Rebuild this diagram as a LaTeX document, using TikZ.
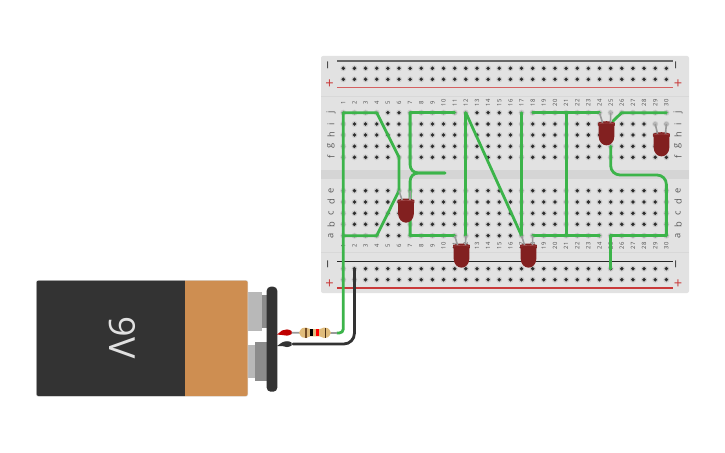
\documentclass[tikz,border=0pt]{standalone}
\usepackage{fontspec}
\setmainfont{Open Sans}
\usetikzlibrary{calc}
\definecolor{boardc}{HTML}{E2E2E2}
\definecolor{bandc}{HTML}{D5D5D5}
\definecolor{sepc}{HTML}{D8D8D8}
\definecolor{wirec}{HTML}{3CB44A}
\definecolor{blackw}{HTML}{333333}
\definecolor{ledc}{HTML}{822020}
\definecolor{ledl}{HTML}{A04848}
\definecolor{legc}{HTML}{9A9A9A}
\definecolor{orangec}{HTML}{CE8E51}
\definecolor{tanc}{HTML}{E0BC7C}
\definecolor{railr}{HTML}{C93A3A}
\tikzset{
 wire/.style={draw=wirec,line width=2.1pt,line join=round,line cap=round},
 blackwire/.style={draw=blackw,line width=2.1pt,line join=round,line cap=round},
 leg/.style={draw=legc,line width=1.2pt},
 lab/.style={font=\fontsize{4.4}{5}\selectfont,text=black!70,rotate=90,inner sep=0pt},
 letlab/.style={font=\fontsize{7}{8}\selectfont,text=black!65,rotate=90,inner sep=0pt},
 minuslab/.style={font=\fontsize{11}{11}\selectfont,text=black!75,rotate=90,inner sep=0pt},
 pluslab/.style={font=\fontsize{11}{11}\selectfont,text=railr,inner sep=0pt},
}
\newcommand{\ledpart}[3]{%
 \begin{scope}[shift={(#2,#3)}]
  \coordinate (#1l) at (-4,2);
  \coordinate (#1r) at (4,2);
  \fill[ledc] (-8.3,2) .. controls (-5,0) and (5,0) .. (8.3,2) -- (8.3,5) -- (7.8,5) -- (7.8,16)
    .. controls (7.8,21) and (4,24.7) .. (0,24.7) .. controls (-4,24.7) and (-7.8,21) .. (-7.8,16) -- (-7.8,5) -- (-8.3,5) -- cycle;
  \draw[ledl,line width=.5pt] (-8,3.3) .. controls (-4,2) and (4,2) .. (8,3.3);
 \end{scope}}
\begin{document}
\begin{tikzpicture}[x=0.75pt,y=-0.75pt]
\useasboundingbox (0,0) rectangle (725,453);
\fill[white] (0,0) rectangle (725,453);
% board
\fill[boardc,rounded corners=1.5pt] (321,56) rectangle (689,293);
\fill[bandc] (321,170) rectangle (689,179);
\draw[sepc,line width=.6pt] (321,96.5) -- (689,96.5);
\draw[sepc,line width=.6pt] (321,252.3) -- (689,252.3);
\draw[black!60,line width=.9pt] (337.3,61) -- (672.7,61);
\draw[railr!80,line width=.9pt] (337.3,87.7) -- (672.7,87.7);
\draw[black!85,line width=.8pt] (337.3,261.3) -- (672.7,261.3);
\draw[railr,line width=.8pt] (337.3,288) -- (672.7,288);
% holes
\foreach \c in {1,...,30}{
 \pgfmathsetmacro{\xx}{343.3+11.14*(\c-1)}
 \foreach \r/\yy in {tm/68.3,tp/79.3,j/112.7,i/124,h/135,g/146.3,f/157.3,e/190.7,d/202,c/213.3,b/224.3,a/235.7,bm/268.7,bp/279.7}{
  \coordinate (c\c\r) at (\xx,\yy);
  \fill[black!20] (\xx,\yy) circle (3);
  \fill[black!82] (\xx,\yy) circle (1.9);
 }
 \node[lab] (numt\c) at (\xx,102.7) {\c};
 \node[lab] (numb\c) at (\xx,245.7) {\c};
}
% connected holes
\foreach \p in {c1j,c1i,c1h,c1g,c1f,c1e,c1d,c1c,c1b,c1a,c7j,c7i,c7h,c7g,c7f,c7e,c7d,c7c,c7b,c7a,
 c12j,c12i,c12h,c12g,c12f,c12e,c12d,c12c,c12b,c12a,c17j,c17i,c17h,c17g,c17f,c17e,c17d,c17c,c17b,c17a,
 c21j,c21i,c21h,c21g,c21f,c21e,c21d,c21c,c21b,c21a,c2j,c3j,c4j,c8j,c9j,c10j,c11j,c18j,c19j,c20j,c22j,c23j,c24j,c25j,c26j,c27j,c28j,c29j,c30j,
 c29i,c30i,c25g,c25f,c6f,c6e,c30e,c30d,c30c,c30b,c30a,c2a,c3a,c4a,c8a,c9a,c10a,c11a,c18a,c19a,c20a,c22a,c23a,c24a,c25a,c26a,c27a,c28a,c29a,c1bm,c1bp,c2bp}{
 \fill[black!28] (\p) circle (2);
}
% row letters
\foreach \l/\yy in {j/112.7,i/124,h/135,g/146.3,f/157.3,e/190.7,d/202,c/213.3,b/224.3,a/235.7}{
 \node[letlab] (ll\l) at (331,\yy) {\l};
 \node[letlab] (lr\l) at (678,\yy) {\l};
}
\node[minuslab] (m1) at (330,65) {−};
\node[minuslab] (m2) at (678,65) {−};
\node[minuslab] (m3) at (330,264) {−};
\node[minuslab] (m4) at (678,264) {−};
\node[pluslab] (p1) at (329.5,84.3) {+};
\node[pluslab] (p2) at (678,84.3) {+};
\node[pluslab] (p3) at (329.5,284) {+};
\node[pluslab] (p4) at (678,284) {+};
% helper coordinates
\coordinate (wa) at (445,173);
\coordinate (wb) at (640,175);
\coordinate (wc) at (613,121);
\coordinate (wd) at (621.7,112.7);
\coordinate (re) at (337,333);
\coordinate (bk) at (293,344);
% wires
\draw[wire,rounded corners=3pt] (c1j) |- (re);
\draw[wire] (c1j) -- (c4j) -- (c6f) -- (c6e) -- (c4a) -- (c1a);
\draw[wire] (c7a) -- (c11a);
\draw[wire] (c7j) -- (c11j);
\draw[wire,rounded corners=6pt] (c7j) |- (wa);
\draw[wire,rounded corners=6pt] (c7a) |- (wa);
\draw[wire] (c12j) -- (c12a);
\draw[wire] (c12j) -- (c17a);
\draw[wire] (c17j) -- (c17a);
\draw[wire] (c18j) -- (c24j);
\draw[wire] (c21j) -- (c21a);
\draw[wire] (c18a) -- (c24a);
\draw[wire] (c30j) -- (wd) -- (wc);
\draw[wire,rounded corners=7pt] (c25g) |- (wb) -| (c30a);
\draw[wire] (c30a) -- (c25a) -- (c25bm);
\draw[blackwire,rounded corners=8pt] (c2bm) |- (bk);
% LEDs
\ledpart{la}{406}{198}
\ledpart{lb}{461.5}{243}
\ledpart{lc}{528.5}{243}
\ledpart{ld}{606.5}{120.7}
\ledpart{le}{661.5}{131.7}
\draw[leg] (c6e) -- (lal);
\draw[leg] (c7e) -- (lar);
\draw[leg] (c11a) -- (lbl);
\draw[leg] (c12a) -- (lbr);
\draw[leg] (c17a) -- (lcl);
\draw[leg] (c18a) -- (lcr);
\draw[leg] (c24j) -- (ldl);
\draw[leg] (c25j) -- (ldr);
\draw[leg] (c29i) -- (lel);
\draw[leg] (c30i) -- (ler);
% battery
\fill[black!28] (248,292) rectangle (262.3,331);
\fill[black!45] (262.3,295) rectangle (268,327.7);
\fill[black!28] (248,345) rectangle (255,378.3);
\fill[black!45] (255,341.7) rectangle (268,381);
\fill[black!12,rounded corners=1.5pt] (36,280) rectangle (248,396.6);
\begin{scope}
 \clip[rounded corners=1.5pt] (36.5,280.7) rectangle (247.7,396);
 \fill[blackw] (36,280) rectangle (185,397);
 \fill[orangec] (185,280) rectangle (248,397);
\end{scope}
\node[rotate=-90,inner sep=0pt,text=black!12,font=\fontsize{27}{30}\selectfont] (volt) at (122,338) {9V};
% clip
\fill[blackw,rounded corners=3pt] (266.7,286.7) rectangle (277.3,391.7);
% resistor
\coordinate (rl) at (291,332.7);
\draw[legc,line width=1.2pt] (rl) -- (re);
\fill[tanc] (299,332.7) .. controls (301,328) and (303,327) .. (306,327.5) -- (310,329) -- (320,329) -- (324,327.5) .. controls (327,327) and (329,328) .. (331,332.7)
 .. controls (329,337.4) and (327,338.4) .. (324,338) -- (320,336.4) -- (310,336.4) -- (306,338) .. controls (303,338.4) and (301,337.4) .. (299,332.7) -- cycle;
\fill[brown!60!black] (304.8,327.5) rectangle (307,338);
\fill[black] (310.3,329) rectangle (313,336.4);
\fill[red] (316,329) rectangle (318.7,336.4);
\fill[black!60!brown] (324.8,327.5) rectangle (325.6,338);
% connector bulbs
\fill[red!75!black] (277,334.5) -- (282,330.5) .. controls (285,329) and (289,329) .. (291.5,331) -- (291.5,334) .. controls (289,336) and (285,336) .. (282,335) -- cycle;
\fill[blackw] (277,346) -- (282,342.5) .. controls (285,340.8) and (289,340.8) .. (291.5,342.5) -- (291.5,345.5) .. controls (289,347.5) and (285,347.5) .. (282,346) -- cycle;
\end{tikzpicture}
\end{document}
